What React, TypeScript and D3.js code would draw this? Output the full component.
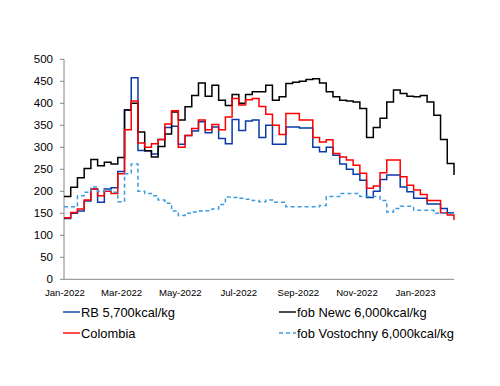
import * as d3 from "d3";

// weekly observations, first week ending 31 Dec 2021
const startDate = new Date(2021, 11, 31);

const rbValues = [
  138, 150, 155, 178, 205, 175, 205, 208, 245, 385, 458, 293, 292, 285, 318, 345, 348, 307, 327, 337,
  358, 333, 346, 320, 308, 363, 338, 360, 362, 322, 350, 307, 307, 346, 346, 344, 344, 300, 290, 300,
  282, 262, 250, 239, 225, 186, 200, 227, 237, 237, 210, 199, 184, 184, 171, 171, 161, 151, 151,
];
const newcValues = [
  188, 209, 231, 252, 272, 258, 266, 262, 277, 385, 400, 335, 292, 278, 302, 330, 380, 362, 392, 418,
  446, 416, 441, 407, 395, 420, 400, 420, 426, 426, 441, 407, 415, 445, 448, 450, 454, 456, 446, 426,
  415, 407, 405, 403, 388, 322, 345, 366, 403, 430, 422, 416, 415, 418, 403, 373, 318, 263, 237,
];
const colombiaValues = [
  140, 152, 160, 180, 205, 190, 200, 195, 240, 340, 405, 310, 300, 308, 318, 353, 383, 300, 327, 343,
  362, 340, 352, 340, 369, 411, 396, 408, 411, 393, 375, 350, 329, 377, 377, 362, 362, 322, 312, 317,
  286, 278, 271, 259, 241, 207, 212, 242, 271, 271, 233, 214, 203, 193, 179, 179, 151, 146, 135,
];
const vostochnyValues = [
  165, 165, 190, 198, 210, 200, 203, 198, 176, 240, 262, 200, 195, 190, 180, 173, 155, 145, 150, 153,
  155, 156, 160, 170, 187, 186, 184, 182, 179, 176, 180, 175, 175, 165, 165, 165, 165, 165, 168, 188,
  188, 195, 195, 195, 188, 188, 188, 179, 153, 161, 166, 166, 157, 157, 157, 150, 150, 150, 148,
];
const yTicks = [0, 50, 100, 150, 200, 250, 300, 350, 400, 450, 500];

const dates = rbValues.map((_, i) => d3.timeDay.offset(startDate, i * 7));

const series = [
  { name: "RB 5,700kcal/kg", values: rbValues, color: "#0a3aa8", dash: "" },
  { name: "fob Newc 6,000kcal/kg", values: newcValues, color: "#000000", dash: "" },
  { name: "Colombia", values: colombiaValues, color: "#ff0000", dash: "" },
  { name: "fob Vostochny 6,000kcal/kg", values: vostochnyValues, color: "#3d9be0", dash: "4,3" },
];

const W = 500;
const H = 386;
const left = 64;
const right = 454;
const top = 59.3;
const bottom = 279.3;

export default function App() {
  const x = d3.scaleTime().domain([dates[0], dates[dates.length - 1]]).range([left, right]);
  const y = d3.scaleLinear().domain([0, 500]).range([bottom, top]);

  const line = d3
    .line<number>()
    .x((_, i) => x(dates[i]))
    .y((d) => y(d))
    .curve(d3.curveStepAfter);

  const monthTicks = d3.timeMonth.every(2)!.range(new Date(2022, 0, 1), new Date(2023, 1, 1));
  const fmt = d3.timeFormat("%b-%Y");
  const font = "'Liberation Sans', Arial, sans-serif";

  const legendPos = [
    { x: 63, y: 312 },
    { x: 279, y: 312 },
    { x: 63, y: 333 },
    { x: 279, y: 333 },
  ];

  return (
    <svg
      width={W}
      height={H}
      style={{ position: "absolute", left: 0, top: 0, background: "#fff" }}
      fontFamily={font}
    >
      {/* y axis */}
      <line x1={left} x2={left} y1={top} y2={bottom} stroke="#868686" strokeWidth={1} />
      {yTicks.map((t) => (
        <g key={t}>
          <line x1={left - 4} x2={left} y1={y(t)} y2={y(t)} stroke="#868686" />
          <text x={53} y={y(t)} dy="0.35em" textAnchor="end" fontSize={11.5} fill="#000">
            {t}
          </text>
        </g>
      ))}
      {/* x axis */}
      <line x1={left} x2={right} y1={bottom} y2={bottom} stroke="#868686" strokeWidth={1} />
      {monthTicks.map((d) => (
        <text key={+d} x={x(d)} y={296} textAnchor="middle" fontSize={9.6} fill="#000">
          {fmt(d)}
        </text>
      ))}
      {/* series */}
      {series.map((s) => (
        <path
          key={s.name}
          d={line(s.values) ?? ""}
          fill="none"
          stroke={s.color}
          strokeWidth={1.5}
          strokeDasharray={s.dash}
        />
      ))}
      {/* legend */}
      {series.map((s, i) => (
        <g key={s.name} transform={`translate(${legendPos[i].x},${legendPos[i].y})`}>
          <line x1={0} x2={17} y1={0} y2={0} stroke={s.color} strokeWidth={1.4} strokeDasharray={s.dash} />
          <text x={18} y={0} dy="0.35em" fontSize={12.9} fill="#000">
            {s.name}
          </text>
        </g>
      ))}
    </svg>
  );
}
